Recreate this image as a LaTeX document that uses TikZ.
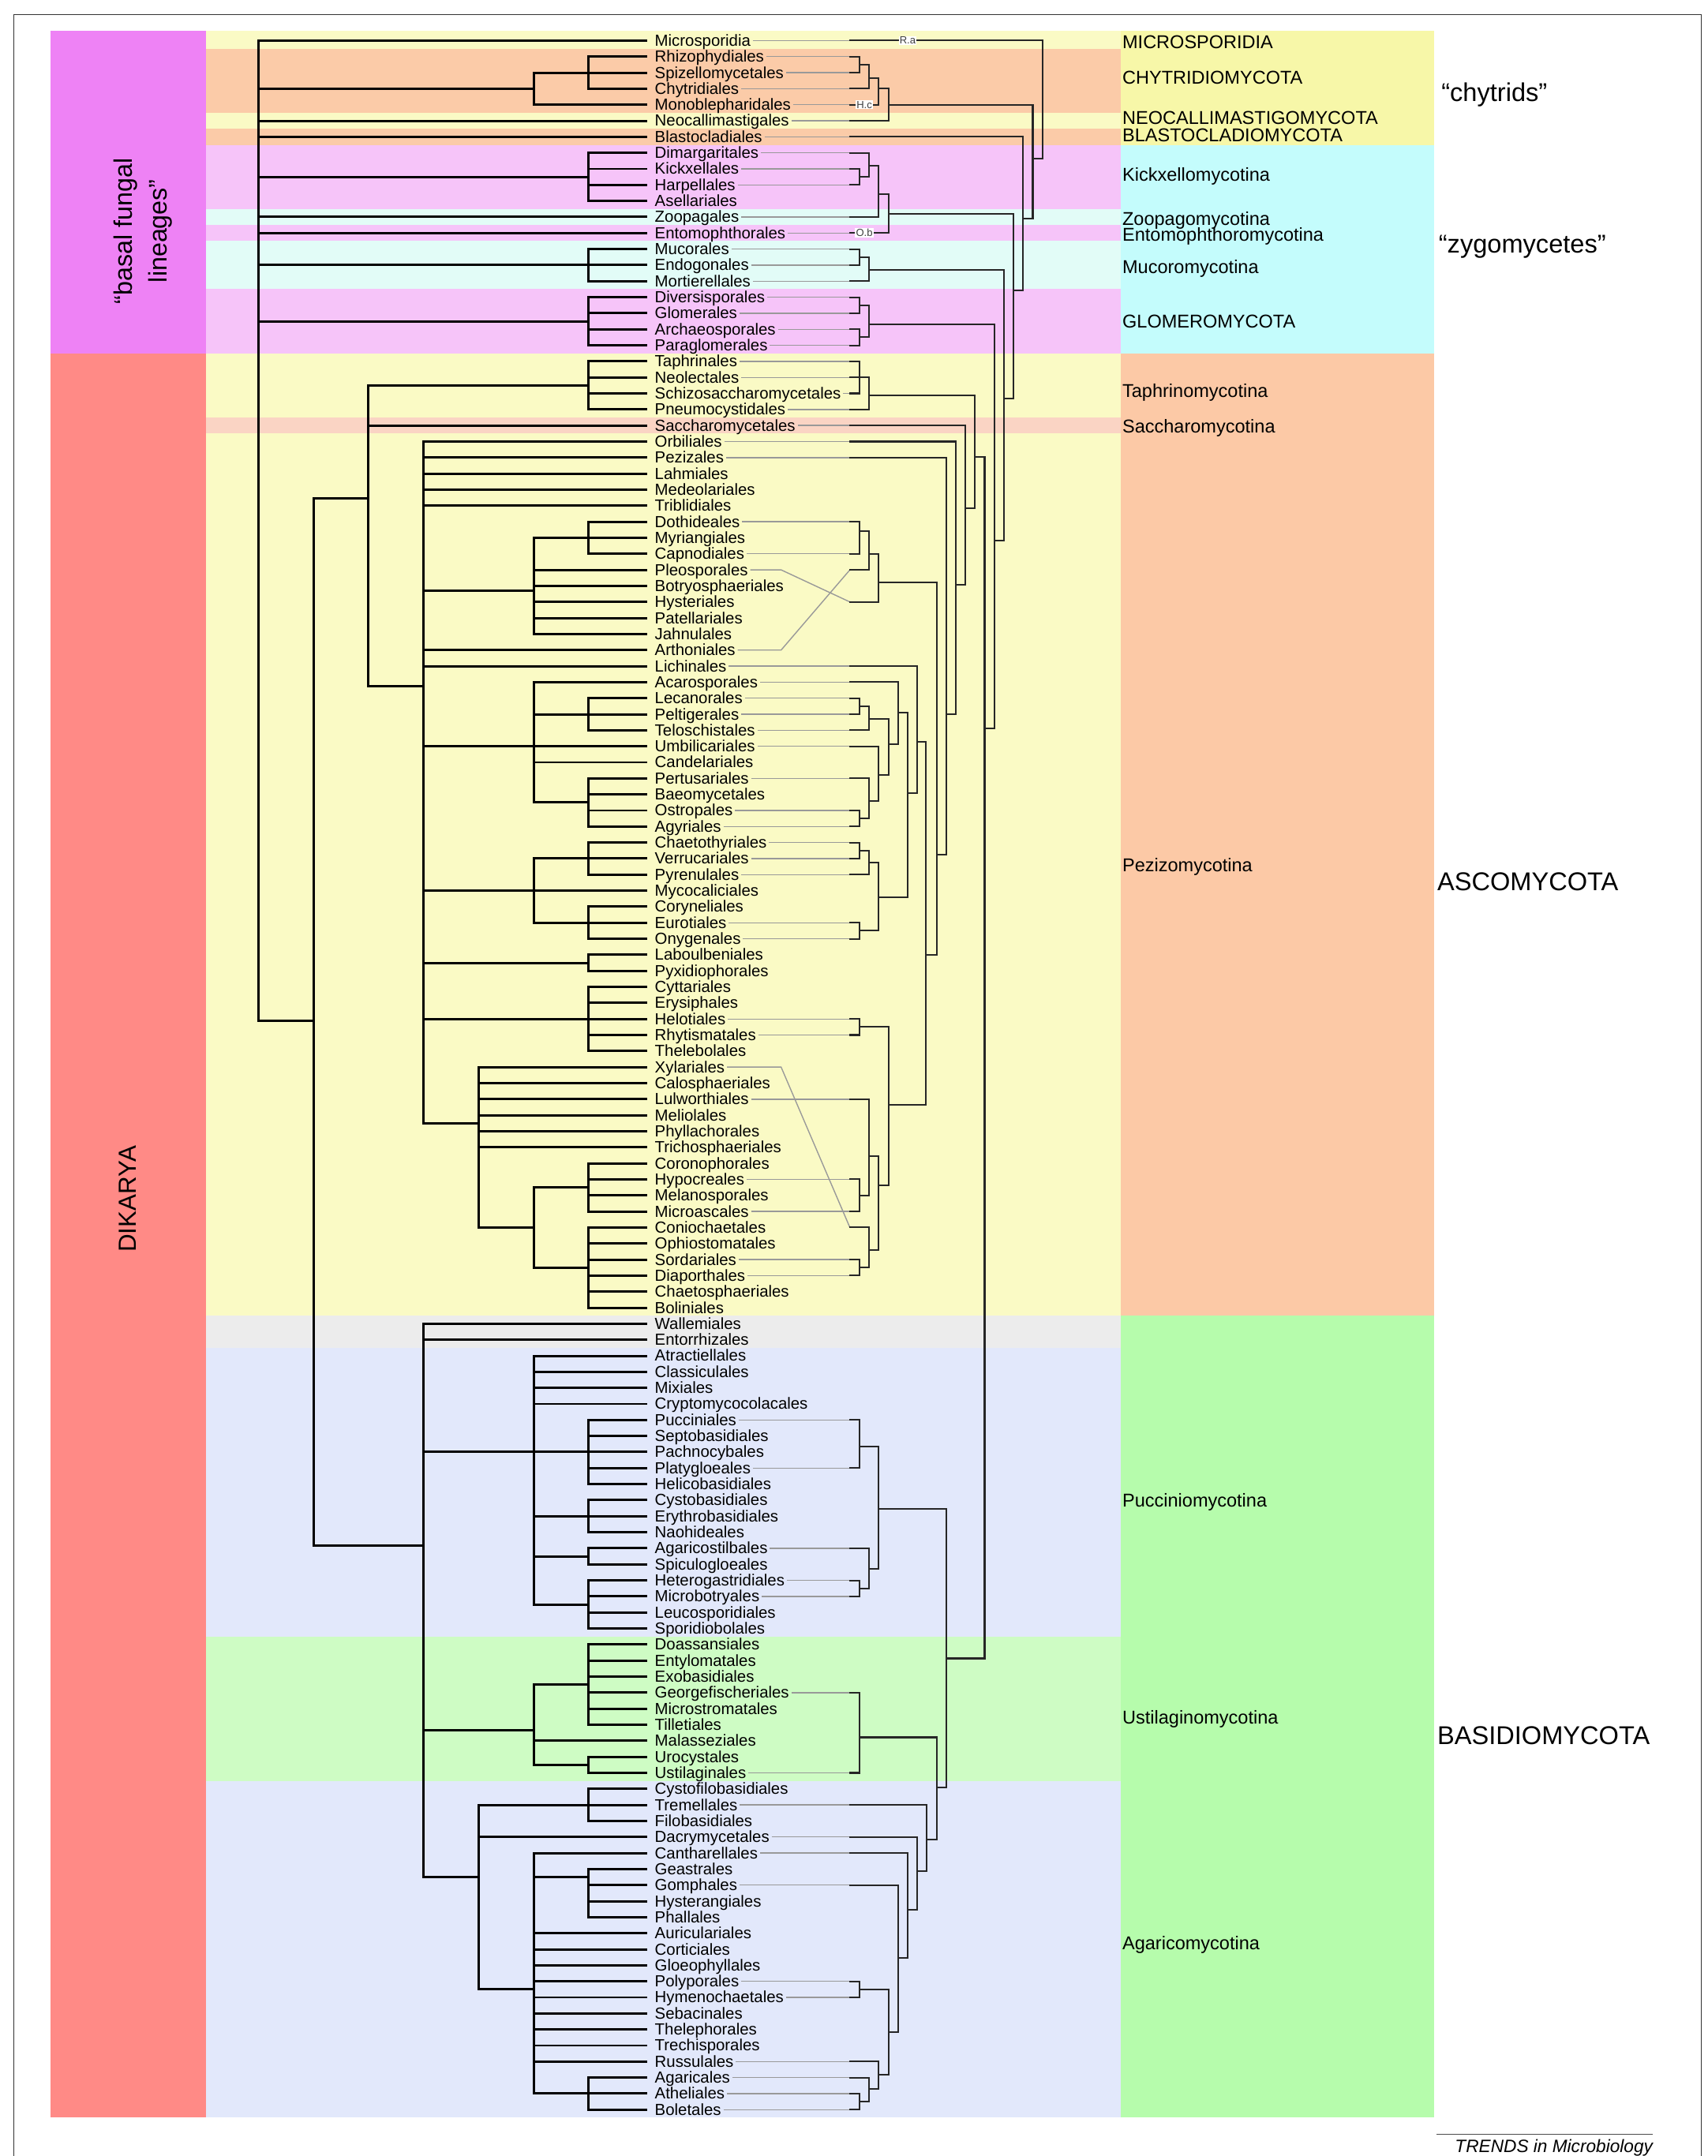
\documentclass[tikz,border=0pt]{standalone}
\usepackage{fontspec}
\setmainfont{Liberation Sans}
\definecolor{bYel}{RGB}{250,250,197}
\definecolor{bSal}{RGB}{251,203,168}
\definecolor{bPnk}{RGB}{246,196,249}
\definecolor{bCya}{RGB}{226,252,247}
\definecolor{bSac}{RGB}{250,212,196}
\definecolor{bGry}{RGB}{236,236,236}
\definecolor{bLav}{RGB}{226,232,251}
\definecolor{bGrn}{RGB}{206,252,196}
\definecolor{cYel}{RGB}{247,247,168}
\definecolor{cCya}{RGB}{196,252,252}
\definecolor{cSal}{RGB}{252,201,166}
\definecolor{cGrn}{RGB}{182,252,172}
\definecolor{cMag}{RGB}{238,130,245}
\definecolor{cRed}{RGB}{255,138,134}
\newcommand\LTv[3]{\draw[lt] (#1,{#2}) -- (#1,{#3});}
\newcommand\LTh[3]{\draw[lt] (#1,{#3}) -- (#2,{#3});}
\newcommand\LTt[3]{\foreach \r in {#2,...,#3}{\draw[lt] (#1,{ry(\r)}) -- (470,{ry(\r)});}}
\newcommand\bandfill[5]{\fill[#1] (#2,{#4}) rectangle (#3,{#5});}
\begin{document}
\begin{tikzpicture}[x=1pt,y=-1pt,
  declare function={ry(\i)=29.5+(\i-1)*11.665; rm(\i)=29.5+(\i-0.5)*11.665;},
  lt/.style={line width=1.7pt, black, line cap=rect},
  rt/.style={line width=1.2pt, black!85, line cap=rect},
  gl/.style={line width=0.8pt, black!40},
  nm/.style={anchor=base west, inner sep=0pt, font=\fontsize{11.7}{13}\selectfont},
  rl/.style={anchor=base west, inner sep=0pt, font=\fontsize{13.5}{15}\selectfont},
  bl/.style={anchor=base west, inner sep=0pt, font=\fontsize{18.7}{22}\selectfont},
  sm/.style={fill=white, inner sep=0.7pt, text=black!75, font=\fontsize{7.5}{7.5}\selectfont}]
\useasboundingbox (0,0) rectangle (1242,1568);
% ---------- middle bands
\bandfill{bYel}{150}{815}{22.5}{rm(1)}
\bandfill{bSal}{150}{815}{rm(1)}{rm(5)}
\bandfill{bYel}{150}{815}{rm(5)}{rm(6)}
\bandfill{bSal}{150}{815}{rm(6)}{rm(7)}
\bandfill{bPnk}{150}{815}{rm(7)}{rm(11)}
\bandfill{bCya}{150}{815}{rm(11)}{rm(12)}
\bandfill{bPnk}{150}{815}{rm(12)}{rm(13)}
\bandfill{bCya}{150}{815}{rm(13)}{rm(16)}
\bandfill{bPnk}{150}{815}{rm(16)}{rm(20)}
\bandfill{bYel}{150}{815}{rm(20)}{rm(80)}
\bandfill{bSac}{150}{815}{rm(24)}{rm(25)}
\bandfill{bGry}{150}{815}{rm(80)}{rm(82)}
\bandfill{bLav}{150}{815}{rm(82)}{rm(100)}
\bandfill{bGrn}{150}{815}{rm(100)}{rm(109)}
\bandfill{bLav}{150}{815}{rm(109)}{1540}
% ---------- right boxes
\bandfill{cYel}{815}{1043}{22.5}{rm(7)}
\bandfill{cCya}{815}{1043}{rm(7)}{rm(20)}
\bandfill{cSal}{815}{1043}{rm(20)}{rm(80)}
\bandfill{cGrn}{815}{1043}{rm(80)}{1540}
% ---------- left boxes
\bandfill{cMag}{37}{150}{22.5}{rm(20)}
\bandfill{cRed}{37}{150}{rm(20)}{1540}
% ---------- frame
\draw[line width=0.8pt, black!80] (10,1568) -- (10,10.5) -- (1237,10.5) -- (1237,1568);
% ---------- names
\foreach \nm [count=\i] in {Microsporidia,Rhizophydiales,Spizellomycetales,Chytridiales,Monoblepharidales,Neocallimastigales,Blastocladiales,Dimargaritales,Kickxellales,Harpellales,Asellariales,Zoopagales,Entomophthorales,Mucorales,Endogonales,Mortierellales,Diversisporales,Glomerales,Archaeosporales,Paraglomerales,Taphrinales,Neolectales,Schizosaccharomycetales,Pneumocystidales,Saccharomycetales,Orbiliales,Pezizales,Lahmiales,Medeolariales,Triblidiales,Dothideales,Myriangiales,Capnodiales,Pleosporales,Botryosphaeriales,Hysteriales,Patellariales,Jahnulales,Arthoniales,Lichinales,Acarosporales,Lecanorales,Peltigerales,Teloschistales,Umbilicariales,Candelariales,Pertusariales,Baeomycetales,Ostropales,Agyriales,Chaetothyriales,Verrucariales,Pyrenulales,Mycocaliciales,Coryneliales,Eurotiales,Onygenales,Laboulbeniales,Pyxidiophorales,Cyttariales,Erysiphales,Helotiales,Rhytismatales,Thelebolales,Xylariales,Calosphaeriales,Lulworthiales,Meliolales,Phyllachorales,Trichosphaeriales,Coronophorales,Hypocreales,Melanosporales,Microascales,Coniochaetales,Ophiostomatales,Sordariales,Diaporthales,Chaetosphaeriales,Boliniales,Wallemiales,Entorrhizales,Atractiellales,Classiculales,Mixiales,Cryptomycocolacales,Pucciniales,Septobasidiales,Pachnocybales,Platygloeales,Helicobasidiales,Cystobasidiales,Erythrobasidiales,Naohideales,Agaricostilbales,Spiculogloeales,Heterogastridiales,Microbotryales,Leucosporidiales,Sporidiobolales,Doassansiales,Entylomatales,Exobasidiales,Georgefischeriales,Microstromatales,Tilletiales,Malasseziales,Urocystales,Ustilaginales,Cystofilobasidiales,Tremellales,Filobasidiales,Dacrymycetales,Cantharellales,Geastrales,Gomphales,Hysterangiales,Phallales,Auriculariales,Corticiales,Gloeophyllales,Polyporales,Hymenochaetales,Sebacinales,Thelephorales,Trechisporales,Russulales,Agaricales,Atheliales,Boletales}{
  \node[nm] (n\i) at (476,{ry(\i)+4}) {\nm};
  \coordinate (g\i) at (618,{ry(\i)});
}
% ---------- grey connectors from names to the right tree
\foreach \r in {1,2,3,4,5,6,7,8,9,10,12,13,14,15,16,17,18,19,20,21,22,23,24,25,26,27,31,33,40,41,42,43,44,45,47,49,50,51,52,53,56,57,62,63,67,72,74,77,78,87,90,95,97,98,104,109,111,113,114,116,122,123,127,128,129,130}{
  \draw[gl] (n\r.east |- g\r) ++(1.5,0) -- (g\r);
}
\draw[gl] (n34.east |- g34) ++(1.5,0) -- (568,{ry(34)}) -- (g36);
\draw[gl] (n39.east |- g39) ++(1.5,0) -- (568,{ry(39)}) -- (g34);
\draw[gl] (n65.east |- g65) ++(1.5,0) -- (568,{ry(65)}) -- (g75);
% ---------- left tree
\LTv{188}{ry(1)}{742.6}
\LTt{188}{1}{1} \LTt{188}{6}{7} \LTt{188}{12}{13}
\LTh{188}{388}{ry(4)} \LTv{388}{ry(3)}{ry(5)} \LTh{388}{428}{ry(3)} \LTv{428}{ry(2)}{ry(4)} \LTt{428}{2}{4} \LTt{388}{5}{5}
\LTh{188}{428}{rm(9)} \LTv{428}{ry(8)}{ry(11)} \LTt{428}{8}{11}
\LTh{188}{428}{ry(15)} \LTv{428}{ry(14)}{ry(16)} \LTt{428}{14}{16}
\LTh{188}{428}{rm(18)} \LTv{428}{ry(17)}{ry(20)} \LTt{428}{17}{20}
\LTh{188}{228}{742.6} \LTv{228}{362.7}{1123.9}
\LTh{228}{268}{362.7} \LTv{268}{rm(22)}{499.3}
\LTh{268}{428}{rm(22)} \LTv{428}{ry(21)}{ry(24)} \LTt{428}{21}{24}
\LTt{268}{25}{25}
\LTh{268}{308}{499.3} \LTv{308}{ry(26)}{rm(68)}
\LTt{308}{26}{30} \LTt{308}{39}{40}
\LTh{308}{388}{429.4} \LTv{388}{ry(32)}{ry(38)} \LTh{388}{428}{ry(32)} \LTv{428}{ry(31)}{ry(33)} \LTt{428}{31}{33} \LTt{388}{34}{38}
\LTh{308}{388}{ry(45)} \LTv{388}{ry(41)}{rm(48)} \LTt{388}{41}{41} \LTt{388}{45}{46}
\LTh{388}{428}{ry(43)} \LTv{428}{ry(42)}{ry(44)} \LTt{428}{42}{44}
\LTh{388}{428}{rm(48)} \LTv{428}{ry(47)}{ry(50)} \LTt{428}{47}{50}
\LTh{308}{388}{ry(54)} \LTv{388}{ry(52)}{ry(56)} \LTh{388}{428}{ry(52)} \LTv{428}{ry(51)}{ry(53)} \LTt{428}{51}{53} \LTt{388}{54}{54}
\LTh{388}{428}{ry(56)} \LTv{428}{ry(55)}{ry(57)} \LTt{428}{55}{57}
\LTh{308}{428}{rm(58)} \LTv{428}{ry(58)}{ry(59)} \LTt{428}{58}{59}
\LTh{308}{428}{ry(62)} \LTv{428}{ry(60)}{ry(64)} \LTt{428}{60}{64}
\LTh{308}{348}{rm(68)} \LTv{348}{ry(65)}{ry(75)} \LTt{348}{65}{70}
\LTh{348}{388}{ry(75)} \LTv{388}{rm(72)}{rm(77)}
\LTh{388}{428}{rm(72)} \LTv{428}{ry(71)}{ry(74)} \LTt{428}{71}{74}
\LTh{388}{428}{rm(77)} \LTv{428}{ry(75)}{ry(80)} \LTt{428}{75}{80}
\LTh{228}{308}{1123.9} \LTv{308}{ry(81)}{rm(115)}
\LTt{308}{81}{82}
\LTh{308}{388}{ry(89)} \LTv{388}{ry(83)}{rm(98)} \LTt{388}{83}{86}
\LTh{388}{428}{ry(89)} \LTv{428}{ry(87)}{ry(91)} \LTt{428}{87}{91}
\LTh{388}{428}{ry(93)} \LTv{428}{ry(92)}{ry(94)} \LTt{428}{92}{94}
\LTh{388}{428}{rm(95)} \LTv{428}{ry(95)}{ry(96)} \LTt{428}{95}{96}
\LTh{388}{428}{rm(98)} \LTv{428}{ry(97)}{ry(100)} \LTt{428}{97}{100}
\LTh{308}{388}{1258.4} \LTv{388}{rm(103)}{rm(108)}
\LTh{388}{428}{rm(103)} \LTv{428}{ry(101)}{ry(106)} \LTt{428}{101}{106} \LTt{388}{107}{107}
\LTh{388}{428}{rm(108)} \LTv{428}{ry(108)}{ry(109)} \LTt{428}{108}{109}
\LTh{308}{348}{rm(115)} \LTv{348}{ry(111)}{rm(122)}
\LTh{348}{428}{ry(111)} \LTv{428}{ry(110)}{ry(112)} \LTt{428}{110}{112} \LTt{348}{113}{113}
\LTh{348}{388}{rm(122)} \LTv{388}{ry(114)}{ry(129)} \LTt{388}{114}{114}
\LTh{388}{428}{rm(115)} \LTv{428}{ry(115)}{ry(118)} \LTt{428}{115}{118}
\LTt{388}{119}{127}
\LTh{388}{428}{ry(129)} \LTv{428}{ry(128)}{ry(130)} \LTt{428}{128}{130}
% ---------- right tree: tips
\foreach \r/\x in {1/758,2/625,3/625,4/632,5/639,6/646,7/744,8/632,9/625,10/625,12/639,13/646,14/625,15/625,16/632,17/625,18/625,19/625,20/625,21/625,22/625,23/625,24/632,25/702,26/695,27/688,31/625,33/625,40/667,41/653,42/625,43/625,44/632,45/639,47/632,49/625,50/625,51/625,52/625,53/632,56/625,57/625,62/625,63/625,67/632,72/625,74/625,77/625,78/625,87/625,90/625,95/632,97/625,98/625,104/625,109/625,111/674,113/667,114/660,116/653,122/625,123/625,127/639,128/632,129/625,130/625,34/632,36/639,75/632}{
  \draw[rt] (g\r) -- (\x,{ry(\r)});
}
% ---------- right tree: verticals
\foreach \x/\a/\b in {625/ry(2)/ry(3),632/rm(2)/ry(4),639/56.8/ry(5),646/ry(4)/ry(6),751/ry(5)/159.2,758/ry(1)/115.5,744/ry(7)/211.2,737/155.7/289.8,625/ry(9)/ry(10),632/ry(8)/rm(9),639/120.3/ry(12),646/141.4/ry(13),625/ry(14)/ry(15),632/rm(14)/ry(16),730/196.3/393.2,625/ry(17)/ry(18),625/ry(19)/ry(20),632/rm(17)/rm(19),723/236.1/529.9,716/332.5/1206.1,625/ry(21)/ry(23),632/ry(22)/ry(24),709/287.4/369.8,702/ry(25)/425.3,695/ry(26)/519.4,688/ry(27)/621.7,681/423.8/694.4,625/ry(31)/ry(33),632/386.5/ry(34),639/ry(33)/ry(36),673/539.5/803.5,667/ry(40)/576.8,660/518.5/652.4,653/ry(41)/541.4,646/523/563.4,625/ry(42)/ry(43),632/rm(42)/ry(44),639/ry(45)/582.4,632/ry(47)/rm(49),625/ry(49)/ry(50),625/ry(51)/ry(52),632/rm(51)/ry(53),625/ry(56)/ry(57),639/627.5/rm(56),646/rm(62)/861.8,625/ry(62)/ry(63),625/ry(72)/ry(74),632/ry(67)/ry(73),625/ry(77)/ry(78),632/ry(75)/rm(77),639/840.8/909,688/1097.1/1300,625/ry(87)/ry(90),625/ry(97)/ry(98),632/ry(95)/rm(97),639/1052.1/1141.1,625/ry(104)/ry(109),681/1263.5/1338,674/ry(111)/1361,667/ry(113)/1389,660/ry(114)/1424,653/ry(116)/1478,646/rm(122)/1509,625/ry(122)/ry(123),639/ry(127)/1519,632/ry(128)/rm(129),625/ry(129)/ry(130)}{
  \draw[rt] (\x,{\a}) -- (\x,{\b});
}
% ---------- right tree: stems
\foreach \p/\q/\y in {625/632/rm(2),632/639/56.8,639/646/ry(4),646/751/ry(5),751/758/115.5,744/751/159.2,737/744/211.2,625/632/rm(9),632/639/120.3,639/646/141.4,646/737/155.7,625/632/rm(14),632/730/196.3,730/737/289.8,625/632/rm(17),625/632/rm(19),632/723/236.1,723/730/393.2,716/723/529.9,625/632/ry(22),632/709/287.4,709/716/332.5,702/709/369.8,695/702/425.3,688/695/519.4,681/688/621.7,625/632/386.5,632/639/ry(33),639/681/423.8,673/681/694.4,667/673/539.5,660/667/576.8,653/660/518.5,646/653/541.4,625/632/rm(42),632/646/523,639/646/563.4,632/639/582.4,625/632/rm(49),625/632/rm(51),632/639/627.5,625/639/rm(56),639/660/652.4,646/673/803.5,625/646/rm(62),625/632/ry(73),632/639/840.8,625/632/rm(77),632/639/909,639/646/861.8,688/716/1206.1,625/639/1052.1,625/632/rm(97),632/639/1141.1,639/688/1097.1,625/681/1263.5,681/688/1300,674/681/1338,667/674/1361,660/667/1389,653/660/1424,646/653/1478,625/646/rm(122),639/646/1509,632/639/1519,625/632/rm(129)}{
  \draw[rt] (\p,{\y}) -- (\q,{\y});
}
% ---------- small labels on the right tree
\node[sm] (lRa) at (660,{ry(1)}) {R.a};
\node[sm] (lHc) at (628.5,{ry(5)}) {H.c};
\node[sm] (lOb) at (628.5,{ry(13)}) {O.b};
% ---------- right column labels
\node[rl] (tMic) at (816,35.4) {MICROSPORIDIA};
\node[rl] (tChy) at (816,61.2) {CHYTRIDIOMYCOTA};
\node[rl] (tNeo) at (816,90.3) {NEOCALLIMASTIGOMYCOTA};
\node[rl] (tBla) at (816,103.3) {BLASTOCLADIOMYCOTA};
\node[rl] (tKic) at (816,132) {Kickxellomycotina};
\node[rl] (tZoo) at (816,164.1) {Zoopagomycotina};
\node[rl] (tEnt) at (816,175.6) {Entomophthoromycotina};
\node[rl] (tMuc) at (816,199) {Mucoromycotina};
\node[rl] (tGlo) at (816,238.2) {GLOMEROMYCOTA};
\node[rl] (tTap) at (816,288.8) {Taphrinomycotina};
\node[rl] (tSac) at (816,314.8) {Saccharomycotina};
\node[rl] (tPez) at (816,633.8) {Pezizomycotina};
\node[rl] (tPuc) at (816,1095.8) {Pucciniomycotina};
\node[rl] (tUst) at (816,1253.8) {Ustilaginomycotina};
\node[rl] (tAga) at (816,1417.8) {Agaricomycotina};
\node[bl] (tAsc) at (1045,647.7) {ASCOMYCOTA};
\node[bl] (tBas) at (1045,1268.7) {BASIDIOMYCOTA};
\node[bl] (tChyt) at (1048,73.7) {“chytrids”};
\node[bl] (tZyg) at (1046,183.7) {“zygomycetes”};
% ---------- left column labels
\node[rotate=90, align=center, inner sep=0pt, font=\fontsize{18.5}{25}\selectfont] (tBasal) at (104,168) {“basal fungal\\lineages”};
\node[rotate=90, inner sep=0pt, font=\fontsize{18}{20}\selectfont] (tDik) at (93,872) {DIKARYA};
% ---------- footer
\draw[line width=0.7pt, black!70] (1044.6,1552) -- (1202,1552);
\node[anchor=base east, inner sep=0pt, font=\fontsize{13}{15}\selectfont\itshape] (tTrends) at (1202,1565.5) {TRENDS in Microbiology};
\end{tikzpicture}
\end{document}
